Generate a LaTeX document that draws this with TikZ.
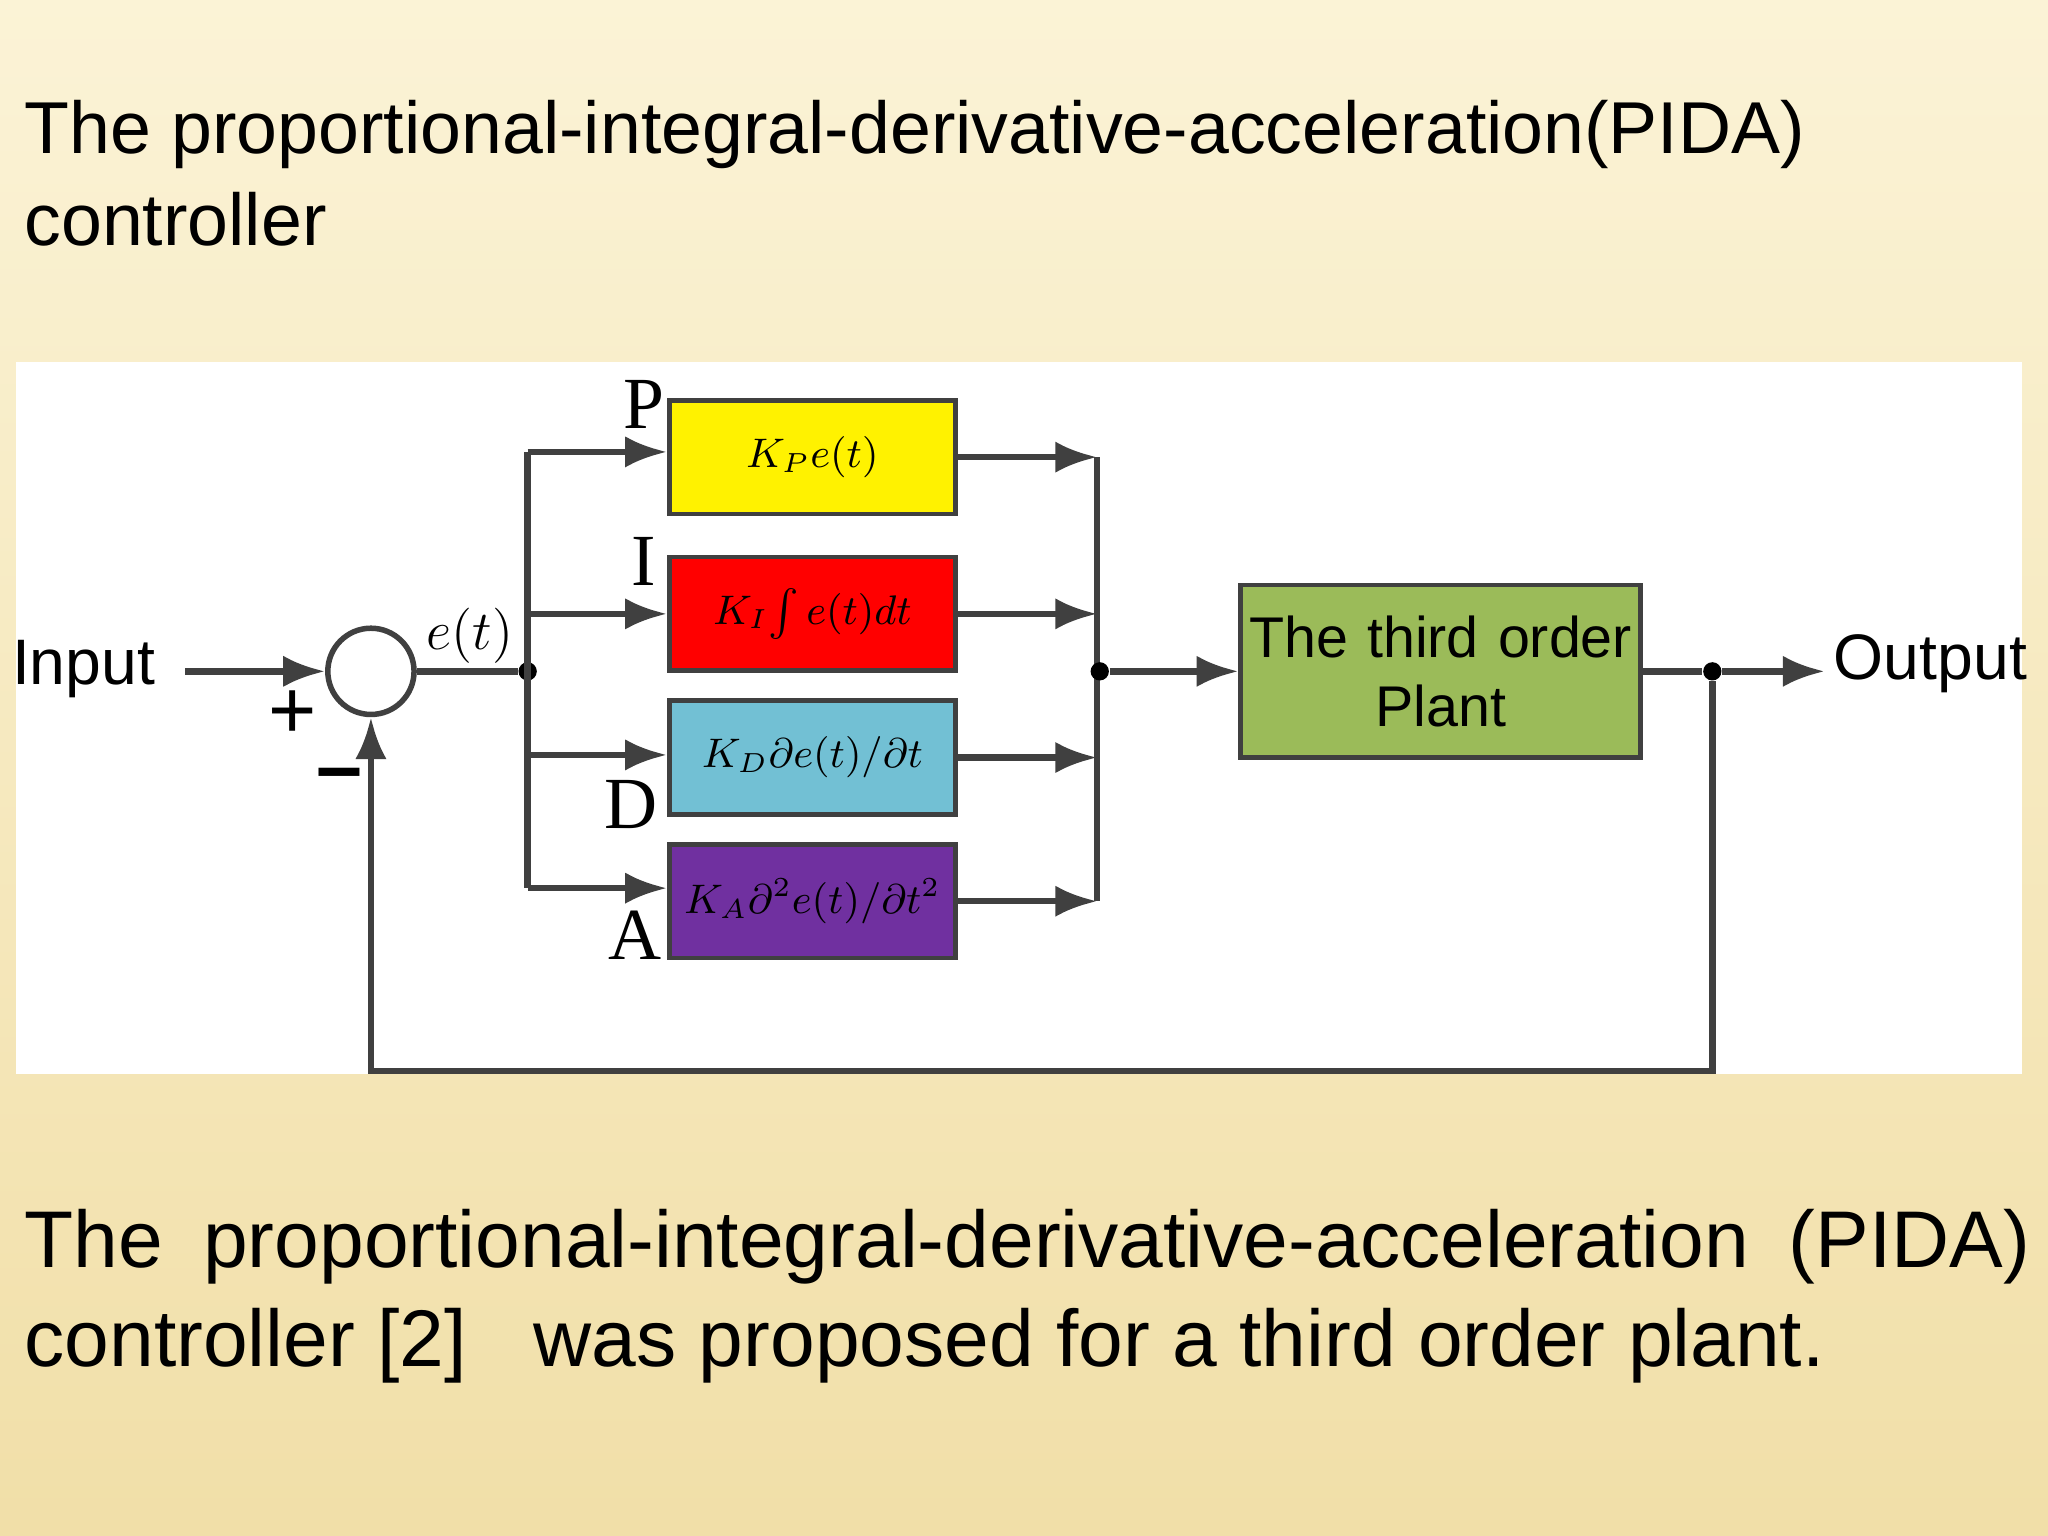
\documentclass[tikz,border=0pt]{standalone}
\usepackage{fontspec}
\setmainfont{Liberation Sans}
\newfontfamily\serf{Liberation Serif}
\usetikzlibrary{arrows.meta}
\definecolor{bgA}{HTML}{FBF3D6}
\definecolor{bgB}{HTML}{F1DFA8}
\definecolor{lineC}{HTML}{404040}
\begin{document}
\begin{tikzpicture}[x=0.01cm,y=-0.01cm,
  ar/.style={-{Latex[length=0.32cm,width=0.24cm]},line width=1.4pt,lineC},
  ln/.style={line width=1.4pt,lineC},
  blk/.style={draw=lineC,line width=1pt,minimum width=2.19cm,text width=2.1cm,align=center,minimum height=0.87cm,inner sep=0pt,font=\fontsize{9}{11}\selectfont},
  lab/.style={font=\serf\fontsize{16}{18}\selectfont},
  dot/.style={circle,fill=black,inner sep=0pt,minimum size=0.14cm}]
\useasboundingbox (0,0) rectangle (1568,1176);
\shade[top color=bgA,bottom color=bgB] (0,0) rectangle (1568,1176);
\fill[white] (12,277) rectangle (1548,822);
\node[anchor=west,inner sep=0pt,font=\fontsize{16}{18}\selectfont] (t1) at (18,103) {The proportional-integral-derivative-acceleration(PIDA)};
\node[anchor=west,inner sep=0pt,font=\fontsize{16}{18}\selectfont] (t2) at (18,168) {controller};
\node[anchor=north west,text width=15.35cm,align=justify,inner sep=0pt,font=\fontsize{17.5}{21.5}\selectfont] (bt) at (18,925)
 {The\ \ proportional-integral-derivative-acceleration\ \ (PIDA) controller [2]\ \ \ was proposed for a third order plant.};
% diagram
\node[font=\fontsize{14}{16}\selectfont] (in) at (64,512) {Input};
\node[circle,draw=lineC,line width=1.2pt,minimum size=0.66cm,inner sep=0pt] (s) at (284,514) {};
\node[font=\fontsize{18}{18}\selectfont] (pl) at (224,547) {+};
\node[font=\fontsize{18}{18}\selectfont] (mi) at (260,598) {\textbf{--}};
\node[font=\fontsize{12}{14}\selectfont] (e) at (360,487) {$e(t)$};
\coordinate (inS) at (142,514);
\draw[ar] (inS) -- (s.west);
\node[dot] (b) at (404,514) {};
\draw[ln] (s.east) -- (b);
\node[blk,fill=yellow] (P) at (622,350) {$K_P e(t)$};
\node[blk,fill=red] (I) at (622,470) {$K_I\!\int e(t)dt$};
\node[blk,fill={rgb,255:red,114;green,192;blue,212}] (D) at (622,580) {$K_D\partial e(t)/\partial t$};
\node[blk,fill={rgb,255:red,112;green,48;blue,160}] (A) at (622,690) {$K_A\partial^2 e(t)/\partial t^2$};
\coordinate (bt1) at (404,346);
\coordinate (bt4) at (404,680);
\draw[ln] (bt1) -- (bt4);
\draw[ar] (bt1) -- (P.west|-bt1);
\draw[ar] (404,470) -- (I.west);
\draw[ar] (404,578) -- (D.west|-0,578);
\draw[ar] (bt4) -- (A.west|-bt4);
\node[lab] (lP) at (493,310) {P};
\node[lab] (lI) at (493,430) {I};
\node[lab] (lD) at (483,616) {D};
\node[lab] (lA) at (486,716) {A};
\coordinate (c1) at (840,350);
\coordinate (c4) at (840,690);
\draw[ln] (c1) -- (c4);
\draw[ar] (P.east) -- (c1);
\draw[ar] (I.east) -- (840,470);
\draw[ar] (D.east) -- (840,580);
\draw[ar] (A.east) -- (c4);
\node[dot] (m) at (842,514) {};
\node[draw=lineC,line width=1pt,fill={rgb,255:red,155;green,187;blue,89},minimum width=3.06cm,text width=3cm,inner sep=0pt,minimum height=1.32cm,align=center,font=\fontsize{12.5}{15}\selectfont] (G) at (1103,514) {The third order\\Plant};
\draw[ar] (m) -- (G.west);
\node[dot] (o) at (1311,514) {};
\draw[ln] (G.east) -- (o);
\coordinate (oe) at (1397,514);
\draw[ar] (o) -- (oe);
\node[font=\fontsize{14}{16}\selectfont] (out) at (1478,508) {Output};
\coordinate (f1) at (1311,820);
\coordinate (f2) at (284,820);
\draw[ar] (o) -- (f1) -- (f2) -- (s.south);
\end{tikzpicture}
\end{document}
